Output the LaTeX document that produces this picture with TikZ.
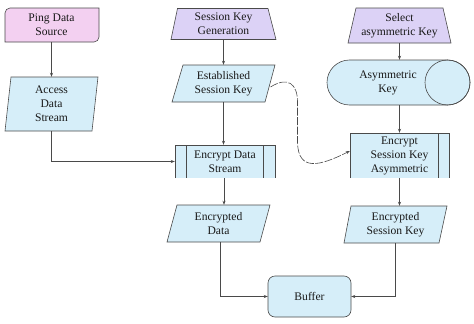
\documentclass[tikz,border=0pt]{standalone}
\usepackage{fontspec}
\setmainfont{Liberation Serif}
\usetikzlibrary{arrows.meta}
\pgfdeclarelayer{background}
\pgfsetlayers{background,main}
\definecolor{lblue}{HTML}{D6EEF9}
\definecolor{lpink}{HTML}{F3D0F1}
\definecolor{lviolet}{HTML}{DCD2F6}
\definecolor{edge}{HTML}{4A4A4A}
\tikzset{
  txt/.style={align=center, inner sep=0pt, text=black!90,
    font=\fontsize{11.6}{14}\selectfont},
  shp/.style={draw=edge, line width=0.6pt},
  arr/.style={draw=edge, line width=0.6pt, -{Stealth[length=4pt,width=3pt]}},
  dsh/.style={draw=edge, line width=0.6pt, dash pattern=on 8pt off 1.5pt, -{Stealth[length=4pt,width=3pt]}}
}
\begin{document}
\begin{tikzpicture}[x=1pt,y=-1pt]
\useasboundingbox (0,0) rectangle (474,324);
% nodes (text)
\node[txt, minimum width=93pt, minimum height=34pt] (ping) at (51.5,25) {Ping Data\\Source};
\node[txt, minimum width=93pt, minimum height=54pt] (access) at (51.5,104) {Access\\Data\\Stream};
\node[txt, minimum width=105pt, minimum height=31pt] (skg) at (223.5,24) {Session Key\\Generation};
\node[txt, minimum width=103pt, minimum height=37pt] (est) at (223.5,83.5) {Established\\Session Key};
\node[txt, minimum width=100pt, minimum height=33pt] (eds) at (225,161.5) {Encrypt Data\\Stream};
\node[txt, minimum width=103pt, minimum height=37pt] (ed) at (218.5,223.5) {Encrypted\\Data};
\node[txt, minimum width=83pt, minimum height=41pt] (buf) at (309.5,296.5) {Buffer};
\node[txt, minimum width=103pt, minimum height=35pt] (sak) at (399.5,25.5) {Select\\asymmetric Key};
\node[txt, minimum width=60pt, minimum height=45pt] (ak) at (388,82.5) {Asymmetric\\Key};
\node[txt, minimum width=99pt, minimum height=45pt] (esa) at (399.5,155.5) {Encrypt\\Session Key\\Asymmetric};
\node[txt, minimum width=103pt, minimum height=37pt] (esk) at (395.5,224.5) {Encrypted\\Session Key};
% shapes
\begin{pgfonlayer}{background}
  % Ping Data Source
  \path[shp, fill=lpink] (5,13) arc[start angle=180,end angle=270,radius=5] -- (99,8) -- (99,37)
     arc[start angle=0,end angle=90,radius=5] -- (5,42) -- cycle;
  % Access Data Stream
  \path[shp, fill=lblue] (11,77) -- (98,77) -- (92,131) -- (5,131) -- cycle;
  % Session Key Generation
  \path[shp, fill=lviolet] (177.5,8.5) -- (268,8.5) -- (276,39.5) -- (171,39.5) -- cycle;
  % Established Session Key
  \path[shp, fill=lblue] (183,65) -- (275,65) -- (265,102) -- (172,102) -- cycle;
  % Encrypt Data Stream
  \path[fill=lblue] (175,145) rectangle (275,178);
  \path[shp] (175,178) -- (175,145) -- (275,145) -- (275,178);
  \path[shp] (186,145) -- (186,178) (263,145) -- (263,178);
  % Encrypted Data
  \path[shp, fill=lblue] (177,205) -- (270,205) -- (260,242) -- (167,242) -- cycle;
  % Buffer
  \path[shp, fill=lblue, rounded corners=7pt] (268,276) rectangle (351,317);
  % Select asymmetric Key
  \path[shp, fill=lviolet] (356,8) -- (443,8) -- (451,43) -- (348,43) -- cycle;
  % Asymmetric Key
  \path[shp, fill=lblue] (349.5,60) -- (447.5,60) arc[start angle=-90,end angle=90,radius=22.5]
     -- (349.5,105) arc[start angle=90,end angle=270,radius=22.5] -- cycle;
  \path[shp] (447.5,82.5) circle[radius=22.5];
  % Encrypt Session Key Asymmetric
  \path[fill=lblue] (350,133) rectangle (449,178);
  \path[shp] (350,178) -- (350,133) -- (449,133) -- (449,178);
  \path[shp] (438,133) -- (438,178);
  % Encrypted Session Key
  \path[shp, fill=lblue] (351,206) -- (447,206) -- (439,243) -- (344,243) -- cycle;
\end{pgfonlayer}
% connectors
\draw[arr] (ping) -- (access);
\draw[arr] (access.south) |- (eds.west);
\draw[arr] (skg) -- (est);
\draw[arr] (est.south) -- (est.south |- eds.north);
\draw[arr] ([xshift=-1pt]eds.south) -- ([xshift=-1pt]eds.south |- ed.north);
\draw[arr] ([xshift=1.5pt]ed.south) |- (buf.west);
\draw[arr] (esk.south) |- (buf.east);
\draw[arr] (sak.south) -- (sak.south |- ak.north);
\draw[arr] (esa.north |- ak.south) -- (esa.north);
\draw[arr] (esa.south) -- (esa.south |- esk.north);
\coordinate (c1) at (270.5,87);
\draw[dsh] (c1) .. controls (288,76) and (297.5,84) .. (297.5,102) -- (297.5,142)
   .. controls (298,172) and (320,166) .. ([yshift=4.5pt]esa.west);
\end{tikzpicture}
\end{document}
